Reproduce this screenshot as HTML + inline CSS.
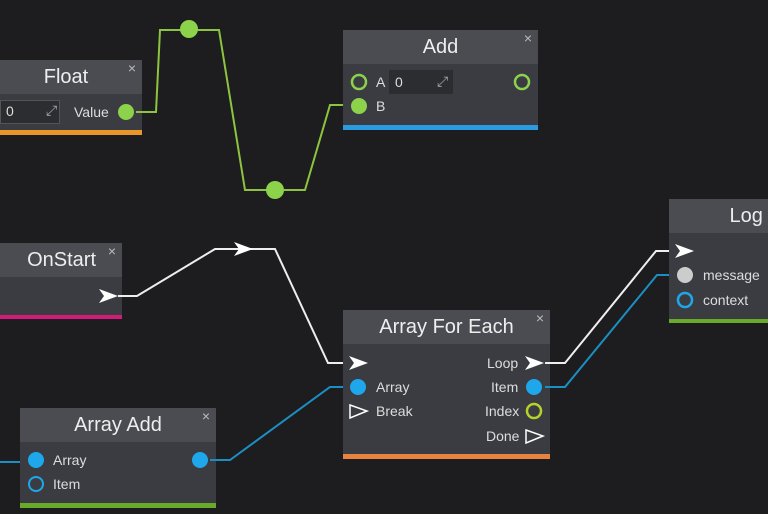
<!DOCTYPE html><html><head><style>
body{margin:0;width:768px;height:514px;background:#1d1d1f;overflow:hidden;position:relative;font-family:"Liberation Sans",sans-serif;color:#ddd}
.n{position:absolute;background:#3b3c42}
.h{background:#4b4c52;height:34px;line-height:34px;text-align:center;font-size:20px;color:#eee;position:relative}
.h .x{position:absolute;right:6px;top:-9px;font-size:14px;color:#bbb}
.t{position:absolute;font-size:14px;color:#ddd}
svg{position:absolute;left:0;top:0}
</style></head><body>
<div class="n" style="left:-10px;top:60px;width:152px;height:75px;border-bottom:5px solid #e8952a;box-sizing:border-box"><div class="h">Float<span class="x">×</span></div>
<div style="position:absolute;left:10px;top:40px;width:58px;height:22px;background:#2c2d31;border:1px solid #555"></div></div>
<div class="n" style="left:343px;top:30px;width:195px;height:100px;border-bottom:5px solid #2a9be0;box-sizing:border-box"><div class="h">Add<span class="x">×</span></div>
<div style="position:absolute;left:46px;top:40px;width:64px;height:24px;background:#2c2d31"></div></div>
<div class="n" style="left:-10px;top:243px;width:132px;height:76px;border-bottom:4px solid #d01b78;box-sizing:border-box"><div class="h">&nbsp;&nbsp;OnStart<span class="x">×</span></div></div>
<div class="n" style="left:343px;top:310px;width:207px;height:149px;border-bottom:5px solid #e8823f;box-sizing:border-box"><div class="h">Array For Each<span class="x">×</span></div></div>
<div class="n" style="left:669px;top:199px;width:110px;height:124px;border-bottom:4px solid #6aaa2a;box-sizing:border-box"><div class="h">&nbsp;&nbsp;&nbsp;&nbsp;&nbsp;&nbsp;&nbsp;&nbsp;Log</div></div>
<div class="n" style="left:20px;top:408px;width:196px;height:100px;border-bottom:5px solid #6aaa2a;box-sizing:border-box"><div class="h">Array Add<span class="x">×</span></div></div>
<svg width="768" height="514">
<g fill="none" stroke-width="2">
<polyline stroke="#8cc43f" points="136,112 156,112 160,30 219,30 245,190 305,190 330,105 343,105"/>
<polyline stroke="#eee" points="118,296 137,296 215,249 275,249 328,363 343,363"/>
<polyline stroke="#eee" points="545,363 565,363 656,251 669,251"/>
<polyline stroke="#1b8fc4" points="545,387 565,387 657,275 669,275"/>
<polyline stroke="#1b8fc4" points="210,460 230,460 330,387 343,387"/>
<polyline stroke="#1b8fc4" points="0,462 20,462"/>
</g>
<circle cx="189" cy="29" r="9" fill="#8cd24a"/><circle cx="275" cy="190" r="9" fill="#8cd24a"/>
<polygon points="234,242 253,249 234,256 239,249" fill="#fff"/>
<circle cx="126" cy="112" r="8" fill="#8cd24a"/>
<circle cx="359" cy="82" r="7" fill="none" stroke="#8cd24a" stroke-width="2.5"/>
<circle cx="522" cy="82" r="7" fill="none" stroke="#8cd24a" stroke-width="2.5"/>
<circle cx="359" cy="106" r="8" fill="#8cd24a"/>
<polygon points="99,289 118,296 99,303 104,296" fill="#fff"/>
<polygon points="349,356 368,363 349,370 354,363" fill="#fff"/>
<circle cx="358" cy="387" r="8" fill="#1ea7ea"/>
<polygon points="350,405 367,411 350,418" fill="none" stroke="#fff" stroke-width="1.5"/>
<polygon points="525,356 544,363 525,370 530,363" fill="#fff"/>
<circle cx="534" cy="387" r="8" fill="#1ea7ea"/>
<circle cx="534" cy="411" r="7" fill="none" stroke="#b6d22a" stroke-width="2.5"/>
<polygon points="526,430 543,436 526,443" fill="none" stroke="#fff" stroke-width="1.5"/>
<polygon points="675,244 694,251 675,258 680,251" fill="#fff"/>
<circle cx="685" cy="275" r="8" fill="#ccc"/>
<circle cx="685" cy="300" r="7" fill="none" stroke="#1ea7ea" stroke-width="2.5"/>
<circle cx="36" cy="460" r="8" fill="#1ea7ea"/>
<circle cx="36" cy="484" r="7" fill="none" stroke="#1ea7ea" stroke-width="2"/>
<circle cx="200" cy="460" r="8" fill="#1ea7ea"/>
</svg>
<div class="t" style="left:6px;top:103px">0</div><div class="t" style="left:46px;top:102px;color:#aaa">⤢</div><div class="t" style="left:74px;top:104px">Value</div>
<div class="t" style="left:376px;top:74px">A</div><div class="t" style="left:395px;top:74px">0</div><div class="t" style="left:437px;top:73px;color:#aaa">⤢</div><div class="t" style="left:376px;top:98px">B</div>
<div class="t" style="left:376px;top:379px">Array</div><div class="t" style="left:376px;top:403px">Break</div>
<div class="t" style="left:487px;top:355px">Loop</div><div class="t" style="left:491px;top:379px">Item</div><div class="t" style="left:485px;top:403px">Index</div><div class="t" style="left:486px;top:428px">Done</div>
<div class="t" style="left:703px;top:267px">message</div><div class="t" style="left:703px;top:292px">context</div>
<div class="t" style="left:53px;top:452px">Array</div><div class="t" style="left:53px;top:476px">Item</div>
</body></html>
